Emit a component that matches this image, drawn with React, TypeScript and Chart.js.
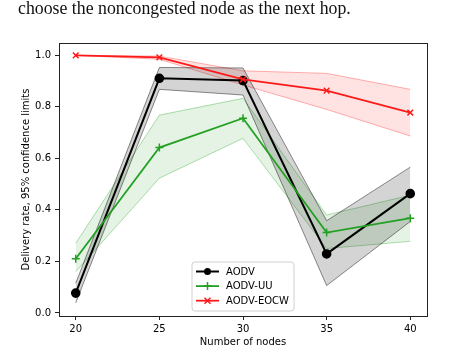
import React, { useEffect, useRef } from 'react';
import { Chart, registerables } from 'chart.js';

Chart.register(...registerables);

// ---- data ----
const nodes = [20, 25, 30, 35, 40];

const aodv = [0.077, 0.911, 0.902, 0.229, 0.463];
const aodvLow = [0.039, 0.868, 0.846, 0.106, 0.355];
const aodvHigh = [0.115, 0.953, 0.951, 0.358, 0.566];

const aodvUU = [0.21, 0.642, 0.756, 0.312, 0.368];
const aodvUULow = [0.16, 0.523, 0.678, 0.25, 0.278];
const aodvUUHigh = [0.27, 0.768, 0.833, 0.38, 0.457];

const aodvEOCW = [1.0, 0.992, 0.907, 0.863, 0.778];
const aodvEOCWLow = [1.0, 0.985, 0.885, 0.79, 0.687];
const aodvEOCWHigh = [1.0, 0.997, 0.94, 0.93, 0.868];

const seriesNames = ['AODV', 'AODV-UU', 'AODV-EOCW'];
const xTicks = [20, 25, 30, 35, 40];
const yTicks = [0.0, 0.2, 0.4, 0.6, 0.8, 1.0];

const xTitle = 'Number of nodes';
const yTitle = 'Delivery rate, 95% confidence limits';
const caption = 'choose the noncongested node as the next hop.';

const FONT = 'DejaVu Sans';
const BLACK = '#000000';
const GREEN = '#22a022';
const RED = '#ff1a1a';

const pts = (vals: number[]) => nodes.map((x, i) => ({ x, y: vals[i] }));

const bandUpper = (vals: number[], edge: string) => ({
  label: '',
  data: pts(vals),
  borderColor: edge,
  borderWidth: 1,
  pointRadius: 0,
  fill: false,
  order: 10,
  tension: 0,
});
const bandLower = (vals: number[], edge: string, fillColor: string) => ({
  label: '',
  data: pts(vals),
  borderColor: edge,
  borderWidth: 1,
  pointRadius: 0,
  fill: '-1',
  backgroundColor: fillColor,
  order: 10,
  tension: 0,
});

const framePlugin = {
  id: 'frame',
  afterDatasetsDraw(chart: any) {
    const { ctx, chartArea: a } = chart;
    ctx.save();
    ctx.strokeStyle = '#222';
    ctx.lineWidth = 1;
    ctx.strokeRect(Math.round(a.left) + 0.5, Math.round(a.top) + 0.5, Math.round(a.right - a.left), Math.round(a.bottom - a.top));
    ctx.restore();
  },
};

const legendPlugin = {
  id: 'mplLegend',
  afterDraw(chart: any) {
    const { ctx, chartArea: a } = chart;
    const w = 102;
    const h = 49;
    const cx = (a.left + a.right) / 2;
    const left = cx - w / 2;
    const top = a.bottom - 5 - h;
    ctx.save();
    // box
    const r = 3;
    ctx.beginPath();
    ctx.moveTo(left + r, top);
    ctx.lineTo(left + w - r, top);
    ctx.quadraticCurveTo(left + w, top, left + w, top + r);
    ctx.lineTo(left + w, top + h - r);
    ctx.quadraticCurveTo(left + w, top + h, left + w - r, top + h);
    ctx.lineTo(left + r, top + h);
    ctx.quadraticCurveTo(left, top + h, left, top + h - r);
    ctx.lineTo(left, top + r);
    ctx.quadraticCurveTo(left, top, left + r, top);
    ctx.closePath();
    ctx.fillStyle = 'rgba(255,255,255,0.85)';
    ctx.fill();
    ctx.strokeStyle = '#d0d0d0';
    ctx.lineWidth = 1;
    ctx.stroke();

    const metas = [6, 7, 8].map((i) => chart.data.datasets[i]);
    metas.forEach((ds: any, k: number) => {
      const y = top + 9.5 + k * 14.6;
      const x0 = left + 4;
      const x1 = left + 27;
      const xm = (x0 + x1) / 2;
      ctx.strokeStyle = ds.borderColor;
      ctx.lineWidth = ds.borderWidth;
      ctx.beginPath();
      ctx.moveTo(x0, y);
      ctx.lineTo(x1, y);
      ctx.stroke();
      // marker
      ctx.lineWidth = 1.5;
      if (ds.pointStyle === 'circle') {
        ctx.fillStyle = ds.borderColor;
        ctx.beginPath();
        ctx.arc(xm, y, 3.5, 0, Math.PI * 2);
        ctx.fill();
      } else if (ds.pointStyle === 'cross') {
        ctx.beginPath();
        ctx.moveTo(xm - 4, y);
        ctx.lineTo(xm + 4, y);
        ctx.moveTo(xm, y - 4);
        ctx.lineTo(xm, y + 4);
        ctx.stroke();
      } else {
        ctx.beginPath();
        ctx.moveTo(xm - 3, y - 3);
        ctx.lineTo(xm + 3, y + 3);
        ctx.moveTo(xm - 3, y + 3);
        ctx.lineTo(xm + 3, y - 3);
        ctx.stroke();
      }
      ctx.fillStyle = '#000';
      ctx.font = `10px "${FONT}"`;
      ctx.textBaseline = 'middle';
      ctx.textAlign = 'left';
      ctx.fillText(ds.label, left + 34, y + 0.5);
    });
    ctx.restore();
  },
};

export default function App() {
  const ref = useRef<HTMLCanvasElement | null>(null);

  useEffect(() => {
    if (!ref.current) return;
    const chart = new Chart(ref.current, {
      type: 'line',
      data: {
        datasets: [
          bandUpper(aodvHigh, 'rgba(0,0,0,0.45)'),
          bandLower(aodvLow, 'rgba(0,0,0,0.45)', 'rgba(0,0,0,0.17)'),
          bandUpper(aodvUUHigh, 'rgba(34,160,34,0.35)'),
          bandLower(aodvUULow, 'rgba(34,160,34,0.35)', 'rgba(34,160,34,0.12)'),
          bandUpper(aodvEOCWHigh, 'rgba(255,0,0,0.3)'),
          bandLower(aodvEOCWLow, 'rgba(255,0,0,0.3)', 'rgba(255,0,0,0.11)'),
          {
            label: seriesNames[0],
            data: pts(aodv),
            borderColor: BLACK,
            backgroundColor: BLACK,
            borderWidth: 2,
            pointStyle: 'circle',
            pointRadius: 3.8,
            pointBackgroundColor: BLACK,
            pointBorderColor: BLACK,
            fill: false,
            order: 3,
            tension: 0,
          },
          {
            label: seriesNames[1],
            data: pts(aodvUU),
            borderColor: GREEN,
            backgroundColor: GREEN,
            borderWidth: 1.8,
            pointStyle: 'cross',
            pointRadius: 4,
            pointBorderWidth: 1.5,
            pointBorderColor: GREEN,
            fill: false,
            order: 2,
            tension: 0,
          },
          {
            label: seriesNames[2],
            data: pts(aodvEOCW),
            borderColor: RED,
            backgroundColor: RED,
            borderWidth: 1.8,
            pointStyle: 'crossRot',
            pointRadius: 4,
            pointBorderWidth: 1.5,
            pointBorderColor: RED,
            fill: false,
            order: 1,
            tension: 0,
          },
        ] as any,
      },
      options: {
        responsive: false,
        animation: false,
        devicePixelRatio: 1,
        layout: { padding: { top: 43, right: 47, bottom: 0, left: 0 } },
        plugins: {
          legend: { display: false },
          tooltip: { enabled: false },
        },
        scales: {
          x: {
            type: 'linear',
            min: 19,
            max: 41,
            afterBuildTicks: (s: any) => {
              s.ticks = xTicks.map((v) => ({ value: v }));
            },
            afterFit: (s: any) => {
              s.height = 39;
            },
            ticks: {
              callback: (v: any) => String(v),
              font: { family: FONT, size: 10 },
              color: '#000',
              padding: 3,
              maxRotation: 0,
            },
            grid: { drawOnChartArea: false, tickLength: 4, color: '#222' },
            border: { display: true, color: '#222', width: 1 },
            title: {
              display: true,
              text: xTitle,
              font: { family: FONT, size: 10 },
              color: '#000',
              padding: { top: 0, bottom: 7 },
            },
          },
          y: {
            type: 'linear',
            min: -0.012,
            max: 1.048,
            afterBuildTicks: (s: any) => {
              s.ticks = yTicks.map((v) => ({ value: v }));
            },
            afterFit: (s: any) => {
              s.width = 59;
            },
            ticks: {
              callback: (v: any) => Number(v).toFixed(1),
              font: { family: FONT, size: 10 },
              color: '#000',
              padding: 4,
            },
            grid: { drawOnChartArea: false, tickLength: 4, color: '#222' },
            border: { display: true, color: '#222', width: 1 },
            title: {
              display: true,
              text: yTitle,
              font: { family: FONT, size: 10 },
              color: '#000',
              padding: { top: 20, bottom: 0 },
            },
          },
        },
      } as any,
      plugins: [framePlugin, legendPlugin],
    });
    return () => chart.destroy();
  }, []);

  return (
    <div style={{ position: 'fixed', left: 0, top: 0, width: 474, height: 355, background: '#fff', overflow: 'hidden' }}>
      <canvas ref={ref} width={474} height={355} style={{ position: 'absolute', left: 0, top: 0, width: 474, height: 355 }} />
      <div
        style={{
          position: 'absolute',
          left: 18,
          top: -2,
          fontFamily: '"Liberation Serif", serif',
          fontSize: 17.8,
          color: '#111',
          whiteSpace: 'nowrap',
          lineHeight: 'normal',
        }}
      >
        {caption}
      </div>
    </div>
  );
}
